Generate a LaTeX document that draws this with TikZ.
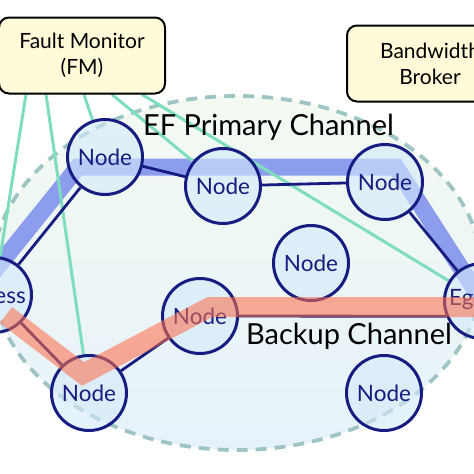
\documentclass[tikz,border=0pt]{standalone}
\usepackage{fontspec}
\setmainfont{Lato}
\definecolor{navy}{HTML}{161C80}
\definecolor{nodefill}{HTML}{D2EAFA}
\definecolor{fmgreen}{HTML}{7FDDBF}
\definecolor{bandblue}{HTML}{8D9DEE}
\definecolor{bandred}{HTML}{FF6E4A}
\definecolor{dashc}{HTML}{9EC4C4}
\definecolor{boxfill}{HTML}{FFFAD7}
\definecolor{elltop}{HTML}{F4FAF2}
\definecolor{ellbot}{HTML}{E6F2FA}
\pgfdeclarelayer{bg}
\pgfdeclarelayer{links}
\pgfdeclarelayer{top}
\pgfsetlayers{bg,links,main,top}
\begin{document}
\begin{tikzpicture}[x=1pt,y=-1pt,
  nd/.style={circle, minimum size=75pt, inner sep=0pt, draw=navy, line width=3pt,
    fill=nodefill, fill opacity=0.6, text opacity=1, text=navy,
    font=\fontsize{22.5}{22.5}\selectfont},
  ndtext/.style={text=navy, inner sep=0pt, font=\fontsize{22.5}{22.5}\selectfont},
  link/.style={draw=navy, line width=2.8pt},
  ctl/.style={draw=fmgreen, line width=3pt},
  box/.style={draw=black, line width=2pt, rounded corners=10pt, fill=boxfill,
    minimum width=166pt, minimum height=76pt, align=center,
    font=\fontsize{21}{26}\selectfont},
  chlabel/.style={anchor=base, inner sep=0pt, font=\fontsize{29}{29}\selectfont},
  primary/.style={draw=bandblue, line width=17pt, line join=miter},
  backup/.style={draw=bandred, draw opacity=0.57, line width=20pt, line join=miter}]
\useasboundingbox (0,0) rectangle (474,474);
\clip (0,0) rectangle (474,474);
% ---------- nodes ----------
\node[nd] (ing) at (-6,295) {};
\node[nd] (eg) at (482,301) {};
\node[nd] (n1) at (105,157) {Node};
\node[nd] (n2) at (223,186) {Node};
\node[nd] (n3) at (385,182) {Node};
\node[nd] (n5) at (89,393) {Node};
\node[nd] (n6) at (200,316) {Node};
\node[nd] (n7) at (311,263) {Node};
\node[nd] (n8) at (384,393) {Node};
\node[ndtext, anchor=base east] (ingt) at (26,303) {Ingress};
\node[ndtext, anchor=base west] (egt) at (449,305) {Egress};
% ---------- boxes ----------
\node[box] (fm) at (82,55.5) {Fault Monitor\\(FM)};
\node[box] (bb) at (430,63.5) {Bandwidth\\Broker};
% ---------- domain and primary channel ----------
\begin{pgfonlayer}{bg}
\path[top color=elltop, bottom color=ellbot] (237,273) ellipse [x radius=245, y radius=177];
\draw[dashc, line width=3.8pt, dash pattern=on 11pt off 8pt] (237,273) ellipse [x radius=245, y radius=177];
\coordinate (p0) at (-17,285);
\coordinate (p1) at (78,167);
\coordinate (p2) at (396,167);
\draw[primary] (p0) -- (p1) -- (p2) -- (eg.center);
\end{pgfonlayer}
% ---------- links ----------
\begin{pgfonlayer}{links}
\draw[ctl] ([xshift=28pt]fm.south west) -- (ing);
\draw[ctl] ([xshift=48pt]fm.south west) -- (n5);
\draw[ctl] ([xshift=86pt]fm.south west) -- (n1);
\draw[ctl] ([xshift=114pt]fm.south west) -- (n2);
\draw[ctl] ([xshift=144pt]fm.south west) -- (eg);
\draw[link] (ing) -- (n1);
\draw[link] (n1) -- (n2);
\draw[link] (n2) -- (n3);
\draw[link] (n3) -- (eg);
\draw[link] (ing) -- (n5);
\draw[link] (n5) -- (n6);
\draw[link] (n6) -- (eg.203);
\end{pgfonlayer}
% ---------- backup channel and labels ----------
\begin{pgfonlayer}{top}
\coordinate (b0) at (6,315);
\coordinate (b1) at (83,374);
\coordinate (b2) at (210,307);
\coordinate (b3) at (490,307);
\draw[backup] (b0) -- (b1) -- (b2) -- (b3);
\node[chlabel] (eflab) at (268.5,135) {EF Primary Channel};
\node[chlabel] (bklab) at (349,344) {Backup Channel};
\end{pgfonlayer}
\end{tikzpicture}
\end{document}
